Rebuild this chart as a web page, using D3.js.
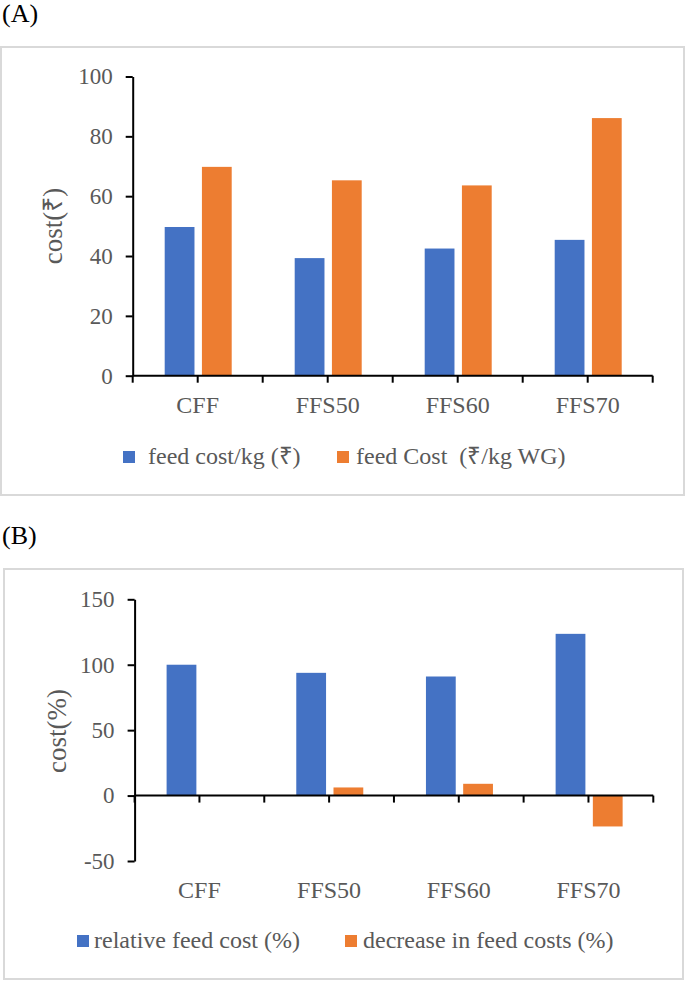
<!DOCTYPE html>
<html>
<head>
<meta charset="utf-8">
<script src="https://cdn.jsdelivr.net/npm/d3@7"></script>
<style>
  body { margin: 0; background: #fff; }
  text { font-family: "Liberation Serif", "Times New Roman", serif; white-space: pre; }
</style>
</head>
<body>
<svg id="chart" width="685" height="981"></svg>
<script>
// data
let categories = ["CFF", "FFS50", "FFS60", "FFS70"];
let feedCostPerKg = [49.7, 39.3, 42.5, 45.4];
let feedCostPerKgWG = [69.8, 65.3, 63.6, 86.1];
let relativeFeedCost = [100, 93.8, 91.0, 123.6];
let decreaseFeedCost = [0, 6.2, 9.0, -23.6];
let ticksA = [0, 20, 40, 60, 80, 100];
let ticksB = [-50, 0, 50, 100, 150];
let seriesNamesA = ["feed cost/kg (\u20B9)", "feed Cost  (\u20B9/kg WG)"];
let seriesNamesB = ["relative feed cost (%)", "decrease in feed costs (%)"];

let colors = ["#4472C4", "#ED7D31"];
let grey = "#595959";
let svg = d3.select("#chart");

function drawPanel(p){
  let g = svg.append("g");

  // frame
  g.append("rect")
    .attr("x", p.frame[0]).attr("y", p.frame[1])
    .attr("width", p.frame[2] - p.frame[0]).attr("height", p.frame[3] - p.frame[1])
    .style("fill", "none").style("stroke", "#d9d9d9").style("stroke-width", 2);

  // panel letter
  g.append("text").attr("x", 2).attr("y", p.letterY)
    .style("font-size", "26px").style("fill", "#000").text(p.letter);

  let x0 = d3.scaleBand().domain(categories).range(p.xRange).padding(0);
  let x1 = d3.scaleBand().domain([0, 1]).range([32, 99]).paddingInner(0.2);
  let y = d3.scaleLinear().domain(p.yDomain).range(p.yRange);

  // bars
  let rows = categories.map((c, i) => ({cat: c, vals: [p.series[0][i], p.series[1][i]]}));
  let groups = g.selectAll(".cat").data(rows).enter().append("g")
    .attr("transform", d => "translate(" + x0(d.cat) + ",0)");
  groups.selectAll("rect")
    .data(d => d.vals.map((v, k) => ({k: k, v: v})))
    .enter().append("rect")
    .attr("x", d => x1(d.k))
    .attr("width", x1.bandwidth())
    .attr("y", d => y(Math.max(0, d.v)))
    .attr("height", d => Math.abs(y(d.v) - y(0)))
    .style("fill", d => colors[d.k]);

  // y axis
  let yAxis = g.append("g")
    .attr("transform", "translate(" + p.xRange[0] + ",0)")
    .call(d3.axisLeft(y).tickValues(p.ticks).tickSize(7).tickSizeOuter(0).tickPadding(13)
      .tickFormat(d => String(d)));
  yAxis.select(".domain").style("stroke", "#000").style("stroke-width", 2);
  yAxis.selectAll(".tick line").style("stroke", "#000").style("stroke-width", 2);
  yAxis.selectAll(".tick text")
    .style("font-size", "23px").style("fill", grey)
    .style("font-family", "Liberation Serif, serif");

  // x axis at zero: ticks at category centres and boundaries
  let tickPos = [];
  categories.forEach(c => { tickPos.push(x0(c)); tickPos.push(x0(c) + x0.bandwidth() / 2); });
  tickPos.push(p.xRange[1]);
  let xAxis = g.append("g").attr("transform", "translate(0," + y(0) + ")");
  xAxis.append("line")
    .attr("x1", p.xRange[0]).attr("x2", p.xRange[1])
    .style("stroke", "#000").style("stroke-width", 2);
  xAxis.selectAll(".xt").data(tickPos).enter().append("line")
    .attr("x1", d => d).attr("x2", d => d).attr("y1", 0).attr("y2", 7)
    .style("stroke", "#000").style("stroke-width", 2);

  // category labels
  g.selectAll(".catlabel").data(categories).enter().append("text")
    .attr("x", d => x0(d) + x0.bandwidth() / 2)
    .attr("y", p.catY)
    .attr("text-anchor", "middle")
    .style("font-size", "24px").style("fill", grey)
    .text(d => d);

  // y title
  g.append("text")
    .attr("transform", "translate(" + p.titleX + "," + p.titleY + ") rotate(-90)")
    .attr("text-anchor", "middle")
    .style("font-size", "27px").style("fill", grey)
    .text(p.yTitle);

  // legend
  p.names.forEach(function(name, k){
    let lg = g.append("g").attr("transform", "translate(" + p.legendX[k] + "," + p.legendY + ")");
    lg.append("rect").attr("x", 0).attr("y", -13).attr("width", 12).attr("height", 12)
      .style("fill", colors[k]);
    lg.append("text").attr("x", p.legendGap[k]).attr("y", 0)
      .style("font-size", "24px").style("fill", grey)
      .text(name);
  });
}

drawPanel({
  letter: "(A)", letterY: 22,
  frame: [1, 47, 684, 495],
  xRange: [132.7, 652.7],
  yDomain: [0, 100], yRange: [375.7, 76.5],
  ticks: ticksA,
  series: [feedCostPerKg, feedCostPerKgWG],
  catY: 412.5,
  yTitle: "cost(\u20B9)", titleX: 62, titleY: 226,
  names: seriesNamesA,
  legendX: [123, 337], legendY: 464, legendGap: [25, 19]
});

drawPanel({
  letter: "(B)", letterY: 544,
  frame: [4, 569, 683, 979],
  xRange: [134.6, 653.3],
  yDomain: [-50, 150], yRange: [861, 599.3],
  ticks: ticksB,
  series: [relativeFeedCost, decreaseFeedCost],
  catY: 898,
  yTitle: "cost(%)", titleX: 66, titleY: 731,
  names: seriesNamesB,
  legendX: [77, 345], legendY: 948, legendGap: [17, 18]
});
</script>
</body>
</html>
